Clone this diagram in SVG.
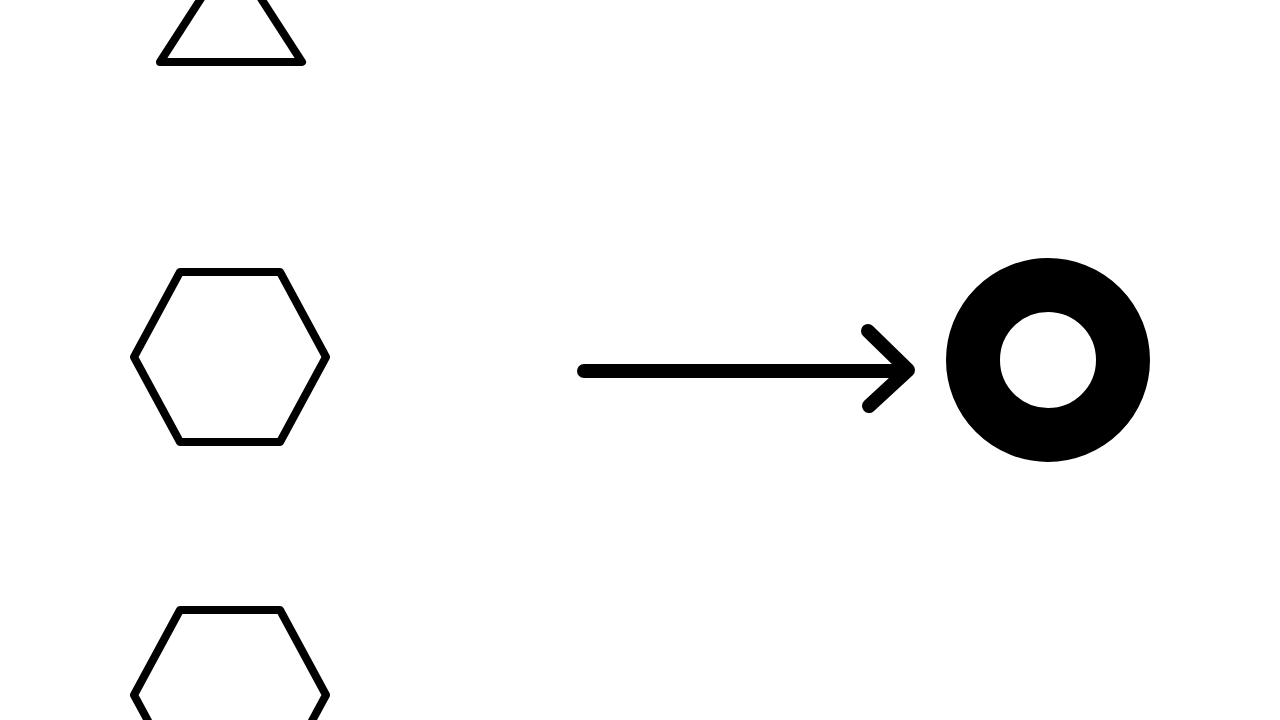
<svg xmlns="http://www.w3.org/2000/svg" width="1280" height="720" viewBox="0 0 1280 720">
<style>
.shape{fill:none;stroke:#000;stroke-width:8;stroke-linejoin:round}
.conn{fill:none;stroke:#000;stroke-width:14;stroke-linecap:round;stroke-linejoin:round}
</style>
<rect width="1280" height="720" fill="#fff"/>
<g id="triangle"><polygon class="shape" points="231,-48 302,62 160,62"/></g>
<g id="hexagon-middle"><polygon class="shape" points="180,272 280,272 326,357 280,442 180,442 134,357"/></g>
<g id="hexagon-bottom"><polygon class="shape" points="180,610 280,610 326,695 280,780 180,780 134,695"/></g>
<g id="ring"><circle cx="1048" cy="360" r="75" fill="none" stroke="#000" stroke-width="54"/></g>
<g id="connectors">
<path class="conn" d="M584,371 H906"/>
<path class="conn" d="M868,331 L908,370 L869,406"/>
</g>
</svg>
